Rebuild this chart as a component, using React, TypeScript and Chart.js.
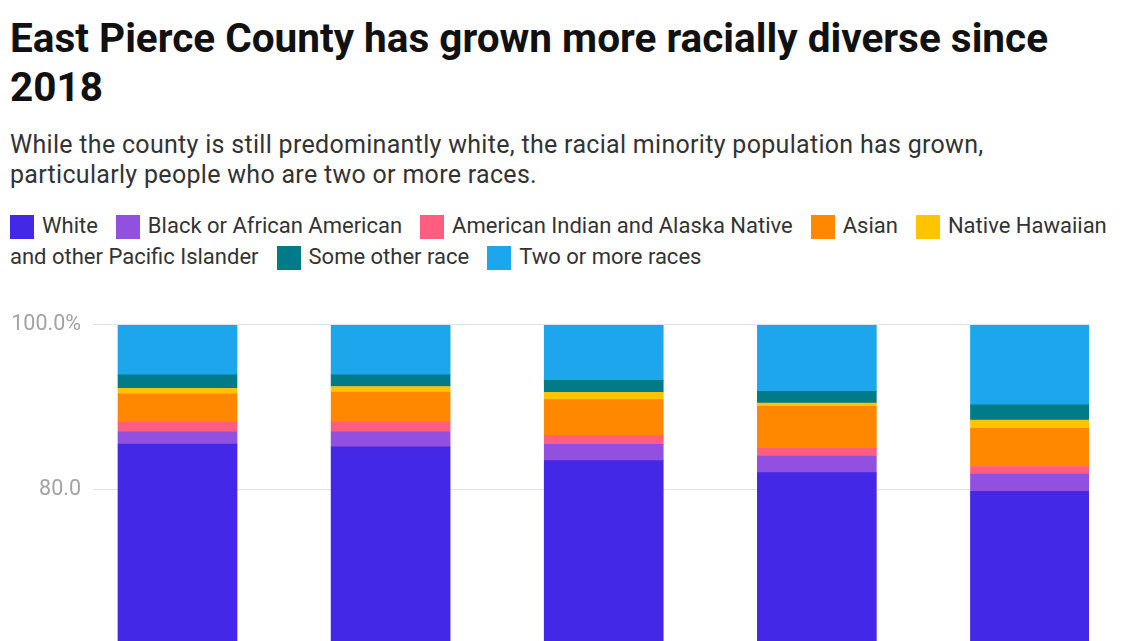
import React, { useEffect, useRef } from "react";
import { Chart, registerables } from "chart.js";

Chart.register(...registerables);

const categories = ["2018", "2019", "2020", "2021", "2022"];
const seriesNames = [
  "White",
  "Black or African American",
  "American Indian and Alaska Native",
  "Asian",
  "Native Hawaiian and other Pacific Islander",
  "Some other race",
  "Two or more races",
];
const white = [85.54, 85.22, 83.53, 82.08, 79.8];
const black = [1.48, 1.81, 1.98, 2.01, 2.1];
const amIndian = [1.2, 1.2, 1.08, 0.93, 0.92];
const asian = [3.42, 3.61, 4.34, 5.1, 4.63];
const nhpi = [0.67, 0.69, 0.88, 0.4, 1.0];
const otherRace = [1.63, 1.41, 1.45, 1.41, 1.84];
const twoOrMore = [6.06, 6.06, 6.75, 8.07, 9.72];
const yTicks = [0, 20, 40, 60, 80, 100];

const colors = ["#4328E7", "#9150E0", "#FF5E80", "#FF8800", "#FFC400", "#007B87", "#1EA6EC"];
const seriesValues = [white, black, amIndian, asian, nhpi, otherRace, twoOrMore];

const FONT = "Roboto, 'Noto Sans', sans-serif";

function ChartCanvas() {
  const ref = useRef<HTMLCanvasElement | null>(null);
  useEffect(() => {
    if (!ref.current) return;
    const chart = new Chart(ref.current, {
      type: "bar",
      data: {
        datasets: seriesNames.map((name, si) => ({
          label: name,
          data: seriesValues[si].map((v, i) => ({ x: i, y: v, cat: categories[i] })),
          backgroundColor: colors[si],
          borderWidth: 0,
          barThickness: 119,
        })) as any,
      },
      options: {
        animation: false,
        responsive: false,
        maintainAspectRatio: false,
        devicePixelRatio: 1,
        layout: { padding: { top: 24, bottom: 20, left: 8, right: 51 } },
        plugins: { legend: { display: false }, tooltip: { enabled: false } },
        scales: {
          x: {
            type: "linear",
            stacked: true,
            offset: false,
            min: -0.3965,
            max: 4.277,
            display: false,
          },
          y: {
            stacked: true,
            min: 0,
            max: 100,
            afterFit: (s: any) => {
              s.width = 85;
            },
            afterBuildTicks: (s: any) => {
              s.ticks = yTicks.map((v) => ({ value: v }));
            },
            border: { display: false },
            grid: { color: "#e3e3e3", drawTicks: false, lineWidth: 1 },
            ticks: {
              padding: 12,
              color: "#a3a3a3",
              font: { family: FONT, size: 21.5 },
              callback: (v: any) => (Number(v) === 100 ? "100.0%" : Number(v).toFixed(1)),
            },
          },
        },
      },
    });
    return () => chart.destroy();
  }, []);
  return <canvas ref={ref} width={1140} height={874} style={{ display: "block" }} />;
}

export default function App() {
  const legendItem = (i: number) => (
    <span key={i} style={{ marginRight: i === 4 ? 0 : 18 }}>
      <span
        style={{
          display: "inline-block",
          width: 24,
          height: 24,
          background: colors[i],
          verticalAlign: -6,
          marginRight: 8,
        }}
      />
      {i === 4 ? (
        <>
          Native Hawaiian
          <br />
          <span style={{ marginRight: 18 }}>and other Pacific Islander</span>
        </>
      ) : (
        seriesNames[i]
      )}
    </span>
  );
  return (
    <div
      style={{
        position: "absolute",
        left: 0,
        top: 0,
        width: 1140,
        height: 641,
        overflow: "hidden",
        background: "#fff",
        fontFamily: FONT,
      }}
    >
      <div
        style={{
          position: "absolute",
          left: 10,
          top: 14,
          fontSize: 40.5,
          lineHeight: "49px",
          fontWeight: 700,
          color: "#111",
          whiteSpace: "nowrap",
        }}
      >
        East Pierce County has grown more racially diverse since
        <br />
        2018
      </div>
      <div
        style={{
          position: "absolute",
          left: 10,
          top: 130,
          fontSize: 25,
          letterSpacing: 0.3,
          lineHeight: "30px",
          color: "#333",
          whiteSpace: "nowrap",
        }}
      >
        While the county is still predominantly white, the racial minority population has grown,
        <br />
        particularly people who are two or more races.
      </div>
      <div
        style={{
          position: "absolute",
          left: 10,
          top: 209.5,
          fontSize: 22,
          lineHeight: "31px",
          color: "#333",
          whiteSpace: "nowrap",
        }}
      >
        {[0, 1, 2, 3, 4, 5, 6].map((i) => legendItem(i))}
      </div>
      <div style={{ position: "absolute", left: 0, top: 300 }}>
        <ChartCanvas />
      </div>
    </div>
  );
}
